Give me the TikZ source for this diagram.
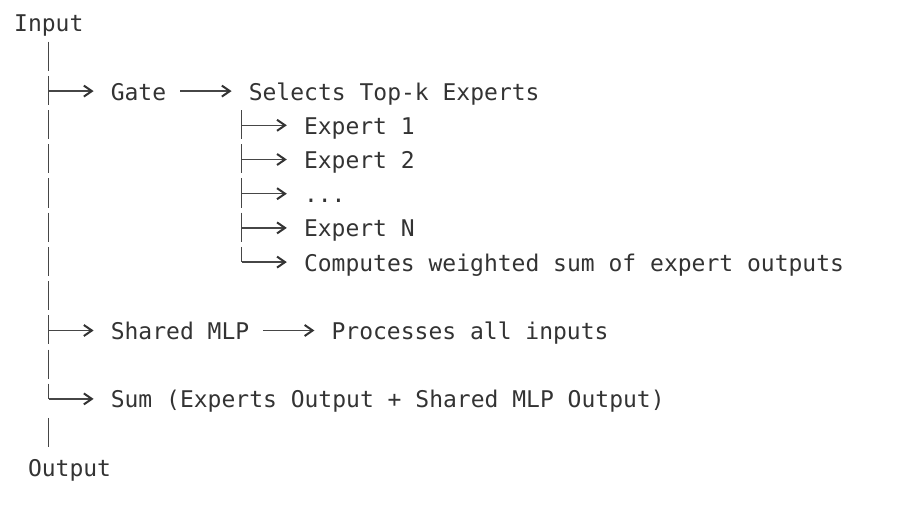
\documentclass[tikz,border=0pt]{standalone}
\usepackage{fontspec}
\setmonofont{DejaVu Sans Mono}
\usepackage{tikz}
\usetikzlibrary{positioning, calc, arrows.meta}
\definecolor{txtgray}{RGB}{51,51,51}
\definecolor{linegray}{RGB}{70,70,70}

\begin{document}
\begin{tikzpicture}[x=1pt, y=-1pt,
    every node/.style={anchor=base west, inner sep=0pt, text=txtgray, font=\ttfamily\fontsize{23}{27}\selectfont},
    trunk/.style={draw=linegray, line width=1.4pt, dash pattern=on 29pt off 5.2pt},
    branch/.style={draw=linegray, line width=1.4pt, shorten >=17pt,
        -{Straight Barb[length=8pt, width=11pt, line width=2pt, color=txtgray]}}]
        \useasboundingbox (0,0) rectangle (920,513);

        \node (input) at (14,31.7) {Input};
        \node (gate) at (110.6,100.1) {Gate};
        \node (select) at (248.6,100.1) {Selects Top-k Experts};

        \node (e1) at (303.8,134.3) {Expert 1};
        \node (e2) at (303.8,168.5) {Expert 2};
        \node (edots) at (303.8,202.7) {...};
        \node (eN) at (303.8,236.9) {Expert N};
        \node (comb) at (303.8,271.1) {Computes weighted sum of expert outputs};

        \node (mlp) at (110.6,339.5) {Shared MLP};
        \node (proc) at (331.4,339.5) {Processes all inputs};
        \node (sum) at (110.6,407.9) {Sum (Experts Output + Shared MLP Output)};
        \node (output) at (27.8,476.3) {Output};

        % Main trunk
        \coordinate (t0) at (48.5,41.7);
        \coordinate (bgate) at (48.5,91.1);
        \coordinate (bmlp) at (48.5,330.5);
        \coordinate (bsum) at (48.5,398.9);
        \coordinate (t1) at (48.5,417.9);

        \draw[trunk] (t0) -- (bsum);
        \draw[trunk, solid, shorten >=12pt] (t1) -- (output.north -| t1);

        \draw[branch] (bgate) -- (bgate -| gate.west);
        \draw[branch] (bmlp) -- (bmlp -| mlp.west);
        \draw[branch] (bsum) -- (bsum -| sum.west);

        \draw[branch, shorten <=14pt] (bgate -| gate.east) -- (bgate -| select.west);
        \draw[branch, shorten <=13.3pt] (bmlp -| mlp.east) -- (bmlp -| proc.west);

        % Expert fan-out
        \coordinate (e0) at (241.7,110.1);
        \coordinate (be1) at (241.7,125.3);
        \coordinate (be2) at (241.7,159.5);
        \coordinate (bedots) at (241.7,193.7);
        \coordinate (beN) at (241.7,227.9);
        \coordinate (bcomb) at (241.7,262.1);

        \draw[trunk] (e0) -- (bcomb);

        \draw[branch] (be1) -- (be1 -| e1.west);
        \draw[branch] (be2) -- (be2 -| e2.west);
        \draw[branch] (bedots) -- (bedots -| edots.west);
        \draw[branch] (beN) -- (beN -| eN.west);
        \draw[branch] (bcomb) -- (bcomb -| comb.west);
    \end{tikzpicture}
\end{document}
